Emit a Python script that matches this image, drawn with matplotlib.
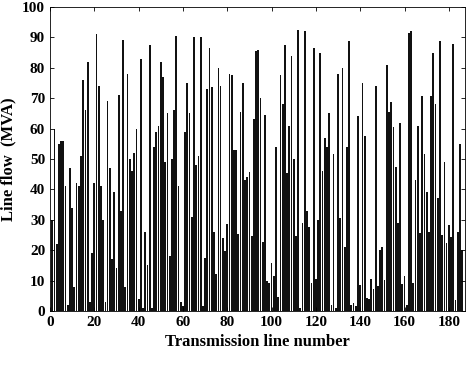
import matplotlib
matplotlib.use('Agg')
import matplotlib.pyplot as plt
import numpy as np

# Line flow of each transmission line (MVA)
flow_1_33 = [30, 60, 22, 55, 56, 56, 41, 2, 47, 34, 8, 42, 41, 51, 76, 66,
             82, 3, 19, 42, 91, 74, 41, 30, 3, 69, 47, 17, 39, 14, 71, 33, 89]
flow_34_67 = [8, 78, 50, 46, 52, 60, 4, 83, 1, 26, 15, 87.5, 1, 54, 59, 61, 82,
              77, 49, 65, 18, 50, 66, 90.6, 41, 3, 1.5, 59, 75, 65, 31, 90, 48, 51]
flow_68_102 = [90, 1.5, 17.5, 73, 86.6, 73.6, 26, 12, 80, 74, 24, 19.6, 28.7,
               78, 77.5, 53, 53, 25.3, 65.6, 75, 43, 44, 45.7, 24.6, 63, 85.5,
               86, 70, 22.7, 64.6, 10, 9.3, 15.7, 11.4, 54]
flow_103_136 = [4.6, 77.5, 68, 87.5, 45.5, 61, 84, 50, 24.8, 92.5, 1, 29, 92,
                33, 27.6, 9.3, 86.6, 10.5, 30, 84.7, 46, 57, 54, 65, 2, 51.7, 1,
                78, 30.5, 80, 21, 54, 88.8, 2]
flow_137_169 = [2.6, 1.5, 64, 8.6, 75, 57.5, 4.3, 3.8, 10.5, 7.2, 74, 8.3, 20,
                21, 10.3, 81, 65.4, 68.7, 60.6, 47.5, 29, 61.7, 8.8, 11.6, 2,
                91.4, 92, 9.3, 43, 61, 25.5, 70.8, 51.7]
flow_170_186 = [39, 26, 70.8, 84.7, 68, 37, 88.8, 25, 49, 22.4, 28.4, 24.3,
                87.8, 3.6, 26, 54.8, 20]

flow = flow_1_33 + flow_34_67 + flow_68_102 + flow_103_136 + flow_137_169 + flow_170_186
line_no = np.arange(1, len(flow) + 1)

plt.rcParams['font.family'] = 'Liberation Serif'
plt.rcParams['font.weight'] = 'bold'

fig = plt.figure(figsize=(4.74, 3.82), dpi=100)
ax = fig.add_axes([0.1055, 0.186, 0.8755, 0.7957])

ax.bar(line_no, flow, width=0.8, color='#111111', edgecolor='none')

ax.set_xlim(0, 187.3)
ax.set_ylim(0, 100)
ax.set_xticks(np.arange(0, 181, 20))
ax.set_yticks(np.arange(0, 101, 10))
ax.tick_params(direction='in', top=True, right=True, labelsize=11, length=3, width=0.6)
for lbl in ax.get_xticklabels() + ax.get_yticklabels():
    lbl.set_fontweight('bold')
for s in ax.spines.values():
    s.set_linewidth(0.6)

ax.set_xlabel('Transmission line number', fontsize=12, fontweight='bold')
ax.set_ylabel('Line flow  (MVA)', fontsize=12, fontweight='bold')

fig.savefig('out.png', dpi=100)
